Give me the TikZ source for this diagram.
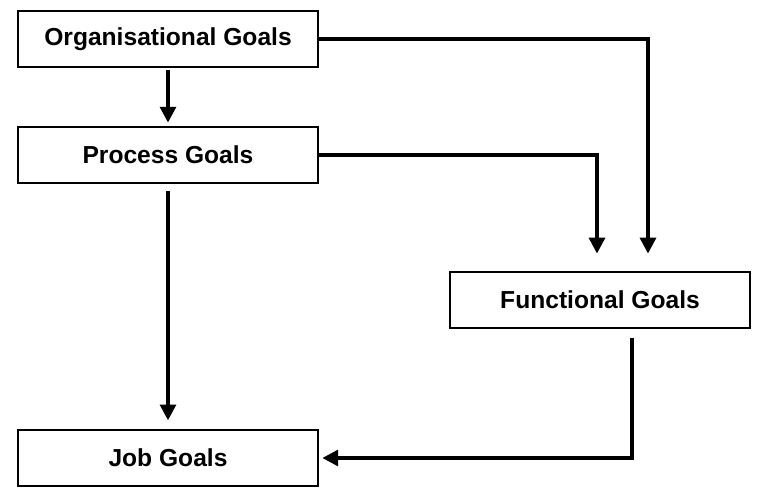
\documentclass[tikz,border=0pt]{standalone}
\usepackage{fontspec}
\setmainfont{Liberation Sans}
\usetikzlibrary{arrows.meta,positioning}
\tikzset{
  goal/.style={rectangle, draw, line width=1pt, minimum width=6cm, minimum height=1.12cm, font=\fontsize{14}{16}\selectfont\bfseries},
  link/.style={draw, line width=2pt, -{Triangle[length=9pt,width=9pt]}}
}
\begin{document}
\begin{tikzpicture}[x=0.02cm,y=-0.02cm]
			\useasboundingbox (0,0) rectangle (768,500);
			% boxes
			\node[goal] (org) at (168,39) {Organisational Goals};
			\node[goal] (proc) at (168,155) {Process Goals};
			\node[goal] (func) at (600,300) {Functional Goals};
			\node[goal] (job) at (168,458) {Job Goals};
			
			% connectors
			\draw[link, shorten <=1pt, shorten >=2pt] (org) -- (proc);
			\draw[link, shorten >=10pt] (org.east) -| ([xshift=0.96cm]func.north);
			\draw[link, shorten >=10pt] (proc.east) -| ([xshift=-0.06cm]func.north);
			\draw[link, shorten <=4pt, shorten >=5pt] (proc) -- (job);
			\draw[link, shorten <=5pt, shorten >=2pt] ([xshift=0.64cm]func.south) |- (job.east);
		\end{tikzpicture}
\end{document}
